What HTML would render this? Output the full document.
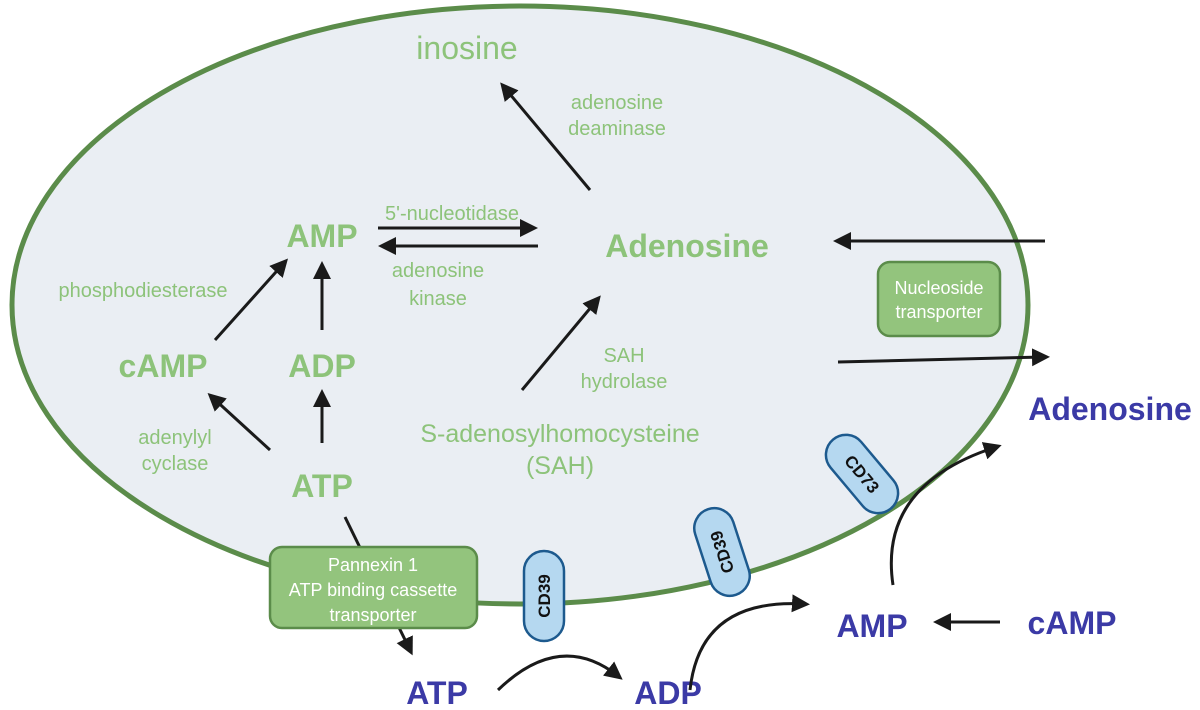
<!DOCTYPE html>
<html><head><meta charset="utf-8"><style>
body{margin:0;background:#fff}
text{font-family:"Liberation Sans",sans-serif}
.g{fill:#8dc37a}
.b{fill:#3b3aa6;font-weight:bold;font-size:32px}
.gb{fill:#8dc37a;font-weight:bold;font-size:32px}
.s{font-size:20px}
.a{stroke:#1a1a1a;stroke-width:3;fill:none;marker-end:url(#ah)}
</style></head><body>
<svg width="1200" height="705" viewBox="0 0 1200 705">
<defs><marker id="ah" markerWidth="6" markerHeight="6" refX="4" refY="3" orient="auto" markerUnits="strokeWidth"><path d="M0,0 L6,3 L0,6 z" fill="#1a1a1a"/></marker></defs>
<ellipse cx="520" cy="305" rx="508" ry="299" fill="#eaeef3" stroke="#5b8c4a" stroke-width="5"/>
<g text-anchor="middle">
<text x="467" y="59" class="g" font-size="32">inosine</text>
<text x="617" y="109" class="g s">adenosine</text><text x="617" y="135" class="g s">deaminase</text>
<text x="322" y="247" class="gb">AMP</text>
<text x="452" y="220" class="g s">5'-nucleotidase</text>
<text x="438" y="277" class="g s">adenosine</text><text x="438" y="305" class="g s">kinase</text>
<text x="687" y="257" class="gb">Adenosine</text>
<text x="143" y="297" class="g s">phosphodiesterase</text>
<text x="163" y="377" class="gb">cAMP</text>
<text x="322" y="377" class="gb">ADP</text>
<text x="175" y="444" class="g s">adenylyl</text><text x="175" y="470" class="g s">cyclase</text>
<text x="322" y="497" class="gb">ATP</text>
<text x="624" y="362" class="g s">SAH</text><text x="624" y="388" class="g s">hydrolase</text>
<text x="560" y="442" class="g" font-size="25">S-adenosylhomocysteine</text>
<text x="560" y="474" class="g" font-size="25">(SAH)</text>
<text x="1110" y="420" class="b">Adenosine</text>
<text x="437" y="704" class="b">ATP</text>
<text x="668" y="704" class="b">ADP</text>
<text x="872" y="637" class="b">AMP</text>
<text x="1072" y="634" class="b">cAMP</text>
</g>
<path class="a" d="M590,190 L504,87"/>
<path class="a" d="M378,228 L532,228"/>
<path class="a" d="M538,246 L384,246"/>
<path class="a" d="M1045,241 L839,241"/>
<path class="a" d="M838,362 L1044,357"/>
<path class="a" d="M215,340 L284,263"/>
<path class="a" d="M322,330 L322,267"/>
<path class="a" d="M322,443 L322,395"/>
<path class="a" d="M270,450 L212,397"/>
<path class="a" d="M522,390 L597,300"/>
<path class="a" d="M345,517 L410,650"/>
<path class="a" d="M498,690 Q560,630 618,676"/>
<path class="a" d="M690,690 Q700,598 804,604"/>
<path class="a" d="M893,585 Q878,485 996,447"/>
<path class="a" d="M1000,622 L939,622"/>
<rect x="878" y="262" width="122" height="74" rx="12" fill="#93c47d" stroke="#5b8c4a" stroke-width="2.5"/>
<text x="939" y="294" text-anchor="middle" fill="#fff" font-size="18">Nucleoside</text>
<text x="939" y="318" text-anchor="middle" fill="#fff" font-size="18">transporter</text>
<rect x="270" y="547" width="207" height="81" rx="12" fill="#93c47d" stroke="#5b8c4a" stroke-width="2.5"/>
<g text-anchor="middle" fill="#fff" font-size="18"><text x="373" y="571">Pannexin 1</text><text x="373" y="596">ATP binding cassette</text><text x="373" y="621">transporter</text></g>
<g transform="translate(544,596)"><rect x="-20" y="-45" width="40" height="90" rx="20" fill="#b5d8f0" stroke="#1d5a8e" stroke-width="2.5"/><text transform="rotate(-90)" y="6" text-anchor="middle" font-size="17" font-weight="bold" fill="#111">CD39</text></g>
<g transform="translate(722,552) rotate(-18)"><rect x="-20" y="-45" width="40" height="90" rx="20" fill="#b5d8f0" stroke="#1d5a8e" stroke-width="2.5"/><text transform="rotate(-90)" y="6" text-anchor="middle" font-size="17" font-weight="bold" fill="#111">CD39</text></g>
<g transform="translate(862,474) rotate(-40)"><rect x="-20" y="-45" width="40" height="90" rx="20" fill="#b5d8f0" stroke="#1d5a8e" stroke-width="2.5"/><text transform="rotate(90)" y="6" text-anchor="middle" font-size="17" font-weight="bold" fill="#111">CD73</text></g>
</svg>
</body></html>
